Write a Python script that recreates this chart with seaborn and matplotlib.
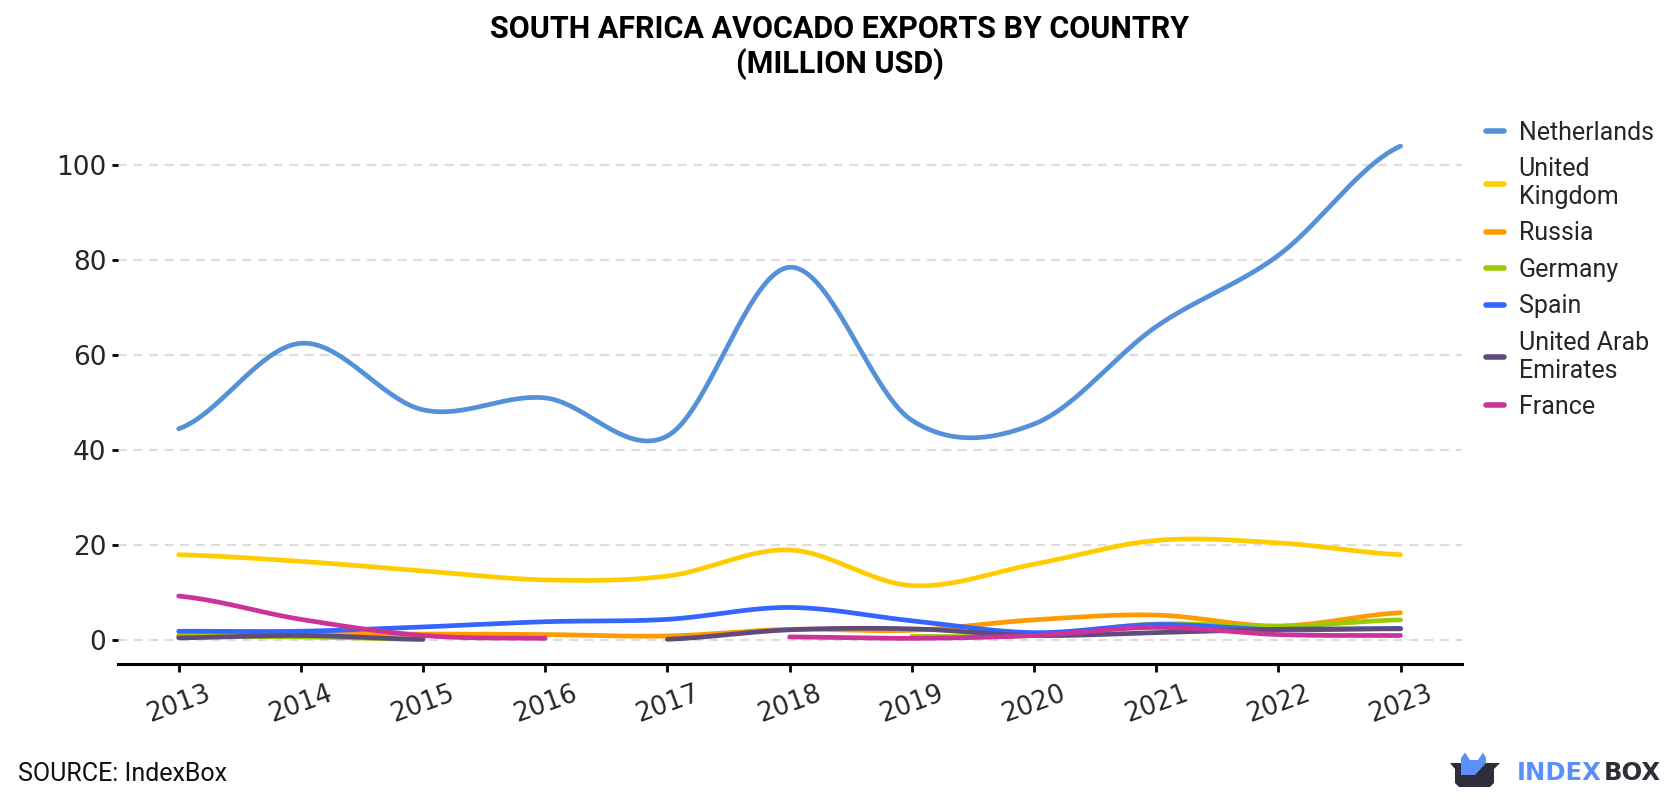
import numpy as np
import pandas as pd
import matplotlib
matplotlib.use("Agg")
import matplotlib.pyplot as plt
import seaborn as sns
from matplotlib.patches import Polygon

# ---------------- data ----------------
years = [2013, 2014, 2015, 2016, 2017, 2018, 2019, 2020, 2021, 2022, 2023]
countries = ["Netherlands", "United Kingdom", "Russia", "Germany", "Spain",
             "United Arab Emirates", "France"]
legend_labels = ["Netherlands", "United\nKingdom", "Russia", "Germany", "Spain",
                 "United Arab\nEmirates", "France"]
netherlands = [44.5, 62.5, 48.5, 51.0, 43.0, 78.5, 46.3, 45.5, 66.0, 81.0, 104.0]
united_kingdom = [18.0, 16.6, 14.6, 12.7, 13.5, 19.0, 11.5, 16.0, 21.0, 20.5, 18.0]
russia = [1.0, 1.2, 1.3, 1.2, 0.9, 2.3, 2.1, 4.3, 5.3, 3.0, 5.8]
germany = [0.8, 0.7, 0.2, None, None, None, 0.8, 1.0, 3.4, 2.9, 4.3]
spain = [1.9, 1.9, 2.8, 3.9, 4.4, 6.9, 4.1, 1.6, 3.3, 2.2, 2.5]
uae = [0.5, 1.0, 0.2, None, 0.2, 2.2, 2.4, 1.0, 1.6, 2.3, 2.4]
france = [9.3, 4.4, 1.0, 0.4, None, 0.7, 0.4, 1.0, 2.7, 1.2, 1.0]
series = [netherlands, united_kingdom, russia, germany, spain, uae, france]
colors = ["#5591d8", "#ffcc00", "#ff9a00", "#99cc00", "#3366ff", "#604c7c", "#cc3399"]
yticks = [0, 20, 40, 60, 80, 100]


def smooth(xs, ys, n=40):
    """Catmull-Rom cubic curve through the data points."""
    xs = np.asarray(xs, float)
    ys = np.asarray(ys, float)
    m = len(xs)
    if m == 1:
        return xs, ys
    t = np.zeros(m)
    for i in range(m):
        if i == 0:
            t[i] = (ys[1] - ys[0]) / (xs[1] - xs[0]) * 0.5
        elif i == m - 1:
            t[i] = (ys[-1] - ys[-2]) / (xs[-1] - xs[-2]) * 0.5
        else:
            t[i] = (ys[i + 1] - ys[i - 1]) / (xs[i + 1] - xs[i - 1])
    ox, oy = [], []
    for i in range(m - 1):
        h = xs[i + 1] - xs[i]
        s = np.linspace(0, 1, n, endpoint=(i == m - 2))
        h00 = 2 * s**3 - 3 * s**2 + 1
        h10 = s**3 - 2 * s**2 + s
        h01 = -2 * s**3 + 3 * s**2
        h11 = s**3 - s**2
        ox.append(xs[i] + s * h)
        oy.append(h00 * ys[i] + h10 * h * t[i] + h01 * ys[i + 1] + h11 * h * t[i + 1])
    return np.concatenate(ox), np.concatenate(oy)


rows = []
for c, vals in zip(countries, series):
    seg, cur = 0, []
    for yr, v in list(zip(years, vals)) + [(None, None)]:
        if v is None:
            if cur:
                sx, sy = smooth([p[0] for p in cur], [p[1] for p in cur])
                for a, b in zip(sx, sy):
                    rows.append({"year": a, "value": b, "country": c, "seg": f"{c}-{seg}"})
                seg += 1
                cur = []
        else:
            cur.append((yr, v))
df = pd.DataFrame(rows)

# ---------------- figure ----------------
sns.set_theme(style="white")
plt.rcParams["font.family"] = ["DejaVu Sans"]

fig = plt.figure(figsize=(16.8, 8.0), dpi=100)
ax = fig.add_axes([0.070, 0.170, 0.800, 0.683])

sns.lineplot(data=df, x="year", y="value", hue="country", units="seg",
             estimator=None, palette=dict(zip(countries, colors)),
             hue_order=countries, linewidth=3.4, sort=False, ax=ax, legend=False)

ax.set_xlim(2012.5, 2023.5)
ax.set_ylim(-5, 110)
ax.set_xticks(years)
ax.set_xticklabels([str(y) for y in years], rotation=20, fontsize=18.5)
ax.set_yticks(yticks)
ax.set_yticklabels([str(y) for y in yticks], fontsize=19)
ax.set_xlabel("")
ax.set_ylabel("")
for sp in ["top", "right", "left"]:
    ax.spines[sp].set_visible(False)
ax.spines["bottom"].set_color("black")
ax.spines["bottom"].set_linewidth(2.2)
ax.tick_params(axis="x", bottom=True, length=6, width=2, color="black", pad=6)
ax.tick_params(axis="y", left=True, length=4, width=2, color="black", pad=4)
ax.yaxis.grid(True, linestyle=(0, (4, 3)), color="#dddddd", linewidth=1.6)
ax.xaxis.grid(False)
ax.set_axisbelow(True)

# legend
handles = [plt.Line2D([], [], color=c, lw=4) for c in colors]
leg = fig.legend(handles, legend_labels, loc="upper left",
                 bbox_to_anchor=(0.8768, 0.865), frameon=False, borderpad=0,
                 prop={"family": "Roboto", "size": 18},
                 handlelength=0.72, handletextpad=0.6, labelspacing=0.5)

# title
fig.text(0.5, 0.964, "SOUTH AFRICA AVOCADO EXPORTS BY COUNTRY", ha="center", va="center",
         fontsize=22, fontweight="bold", family="Roboto", color="black")
fig.text(0.5, 0.920, "(MILLION USD)", ha="center", va="center",
         fontsize=22, fontweight="bold", family="Roboto", color="black")

# source
fig.text(0.0105, 0.032, "SOURCE: IndexBox", ha="left", va="center",
         fontsize=18, family="Roboto", color="#111111")

# logo
W, H = 1680.0, 800.0
def P(x, y):
    return (x / W, 1 - y / H)
box = Polygon([P(1450, 763), P(1500, 763), P(1494, 769), P(1494, 783), P(1490, 787),
               P(1459, 787), P(1455, 783), P(1455, 769)], closed=True,
              transform=fig.transFigure, facecolor="#2d2e3a", edgecolor="none")
ears = Polygon([P(1461, 775), P(1461, 758), P(1465, 752.5), P(1470, 760), P(1478, 760),
                P(1483, 752.5), P(1486, 758), P(1486, 763), P(1475, 775)],
               closed=True, transform=fig.transFigure,
               facecolor="#5b8ff9", edgecolor="none")
fig.add_artist(box)
fig.add_artist(ears)
t1 = fig.text(1517 / W, 1 - 773 / H, "INDEX", ha="left", va="center", fontsize=17.5,
              fontweight="bold", family="DejaVu Sans", color="#5b8ff9")
fig.canvas.draw()
bb = t1.get_window_extent(renderer=fig.canvas.get_renderer())
fig.text(bb.x1 / W + 1.5 / W, 1 - 773 / H, "BOX", ha="left", va="center", fontsize=17.5,
         fontweight="bold", family="DejaVu Sans", color="#2d2e3a")

fig.savefig("out.png", dpi=100)
